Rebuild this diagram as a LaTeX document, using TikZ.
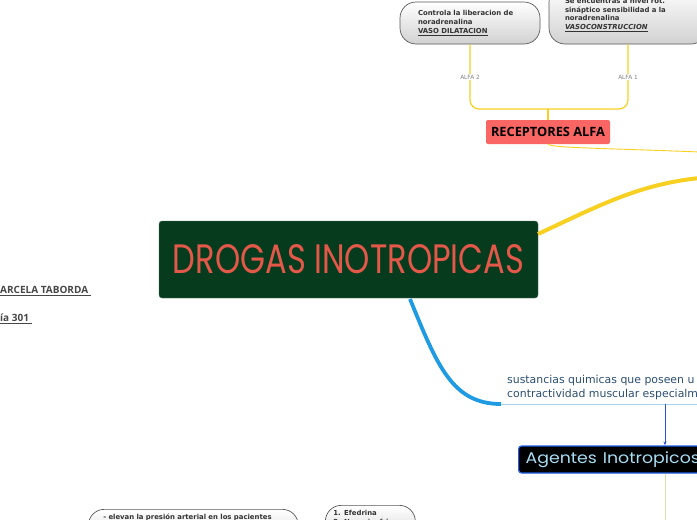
\documentclass[tikz,border=0pt]{standalone}
\usepackage{fontspec}
\usepackage{graphicx}
\setmainfont{DejaVu Sans}
\newfontfamily\osans{Open Sans}
\newfontfamily\popp{Poppins}
\usetikzlibrary{arrows.meta}
\definecolor{yel}{HTML}{F7D022}
\definecolor{dgreen}{HTML}{063B1E}
\definecolor{tred}{HTML}{E4584A}
\definecolor{salmon}{HTML}{FA6663}
\definecolor{bcurve}{HTML}{1E9BE2}
\definecolor{lblue}{HTML}{A6D3F0}
\definecolor{txtblue}{HTML}{2B4E70}
\definecolor{arrblue}{HTML}{2A4FE0}
\definecolor{agtxt}{HTML}{A8DDF4}
\definecolor{agborder}{HTML}{2060E8}
\definecolor{olive}{HTML}{D9E2A6}
\tikzset{
  pill/.style={draw=black!65, line width=0.7pt, rounded corners=16pt,
    top color=white, bottom color=black!18, inner sep=0pt, align=left,
    font=\fontsize{6.9}{8.7}\selectfont\bfseries, text=black!80},
  yline/.style={draw=yel, line width=1.2pt},
  lbl/.style={fill=white, text=black!50, font=\fontsize{5.8}{7}\selectfont, inner sep=1pt},
  nametxt/.style={anchor=base west, inner sep=0pt, text=black!72,
    font=\osans\fontsize{10}{11}\selectfont\bfseries},
}
\begin{document}
\begin{tikzpicture}[x=1pt,y=-1pt]
\useasboundingbox (0,0) rectangle (697,520);
\clip (0,0) rectangle (697,520);

% top pills
\node[pill, minimum width=140pt, minimum height=42pt, text width=104pt] (c2) at (470,23)
  {Controla la liberacion de\\noradrenalina\\\underline{VASO DILATACION}};
\node[pill, minimum width=158pt, minimum height=58pt, text width=126pt] (c1) at (628,15)
  {Se encuentras a nivel rot.\\sináptico sensibilidad a la\\noradrenalina\\\underline{\itshape VASOCONSTRUCCION}};

% receptors
\node[fill=salmon, rounded corners=2pt, minimum width=124pt, minimum height=24pt, inner sep=0pt,
  font=\osans\fontsize{12.8}{13}\selectfont\bfseries, text=black] (ra) at (548,132) {RECEPTORES ALFA};

\coordinate (j) at (548,109);
\draw[yline, rounded corners=9pt] (c2.south) |- (j);
\draw[yline, rounded corners=9pt] (c1.south) |- (j);
\draw[yline] (j) -- (ra.north);
\node[lbl] (a2) at (470,77) {ALFA 2};
\node[lbl] (a1) at (628,77) {ALFA 1};

% main node
\node[fill=dgreen, draw=dgreen!70!white, rounded corners=3pt, minimum width=379pt, minimum height=77pt, inner sep=0pt] (main) at (348.5,259.5)
  {\color{tred}\resizebox{351pt}{29pt}{\popp DROGAS INOTROPICAS}};

% yellow connectors to the right
\coordinate (e1) at (700,152);
\draw[draw=yel, line width=0.9pt] (ra.south) .. controls (552,148) and (600,148) .. (e1);
\coordinate (m1) at (538,234);
\coordinate (e2) at (700,178);
\draw[draw=yel, line width=4pt] (m1) .. controls (600,205) and (640,184) .. (e2);

% names
\node[nametxt] (n1) at (0,293.5) {\underline{ARCELA TABORDA\ }};
\node[nametxt] (n2) at (0,321.5) {\underline{ía 301\ }};

% blue branch
\coordinate (b0) at (410,299);
\coordinate (b1) at (501,404);
\draw[draw=bcurve, line width=3.8pt] (b0) .. controls (437,365) and (452,404) .. (b1);
\coordinate (b2) at (700,404);
\draw[draw=lblue, line width=1pt] (b1) -- (b2);
\node[anchor=south west, inner sep=0pt, align=left, text=txtblue,
  font=\fontsize{10.9}{14}\selectfont] (sus) at (507,400)
  {sustancias quimicas que poseen u\\contractividad muscular especialm};

% agentes
\node[anchor=west, fill=black, draw=agborder, line width=1.2pt, rounded corners=3pt,
  minimum height=27pt, minimum width=220pt, inner xsep=6pt, inner ysep=0pt, text=agtxt,
  font=\popp\fontsize{15.5}{16}\selectfont, align=left, text width=206pt] (ag) at (518,459.5) {\scalebox{1.12}[1]{Agentes Inotropicos}};
\coordinate (s1) at (665,404);
\draw[draw=arrblue, line width=0.7pt, -{Stealth[length=4pt,width=3pt]}] (s1) -- (ag.north -| s1);
\coordinate (s2) at (665,530);
\draw[draw=olive, line width=1pt] (ag.south -| s1) -- (s2);

% bottom pills
\node[pill, anchor=north west, minimum width=210pt, minimum height=40pt, text width=180pt] (p1) at (88,509)
  {\vbox to 30pt{\hbox{- elevan la presión arterial en los pacientes}\vfill}};
\node[pill, anchor=north west, minimum width=90pt, minimum height=40pt, text width=74pt] (p2) at (325,505)
  {\vbox to 30pt{\hbox{1. Efedrina}\hbox{2. Norepinefrina}\vfill}};
\end{tikzpicture}
\end{document}
